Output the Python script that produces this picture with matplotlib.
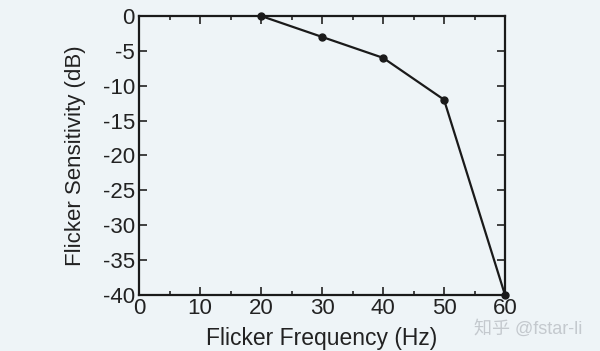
import matplotlib
matplotlib.use('Agg')
import matplotlib.pyplot as plt
from matplotlib.ticker import MultipleLocator

plt.rcParams['font.family'] = ['Liberation Sans', 'Noto Sans CJK SC', 'DejaVu Sans']
plt.rcParams['axes.unicode_minus'] = False

# 数据
freq = [20, 30, 40, 50, 60]
sensitivity = [0, -3, -6, -12, -40]

bg = '#eef4f7'
fig = plt.figure(figsize=(6, 3.51), dpi=100)
fig.patch.set_facecolor(bg)
ax = fig.add_axes([0.2317, 0.1595, 0.61, 0.795])
ax.set_facecolor(bg)

ax.plot(freq, sensitivity, color='#1a1a1a', lw=1.6, marker='o', ms=5,
        clip_on=False, zorder=3)

ax.set_xlim(0, 60)
ax.set_ylim(-40, 0)
ax.xaxis.set_major_locator(MultipleLocator(10))
ax.xaxis.set_minor_locator(MultipleLocator(5))
ax.yaxis.set_major_locator(MultipleLocator(5))

ax.tick_params(which='both', direction='in', top=True, right=True,
               labelsize=16, colors='#222222')
ax.tick_params(which='major', length=6, width=1.2)
ax.tick_params(which='minor', length=3, width=1.2)
ax.tick_params(axis='x', pad=2)
ax.tick_params(axis='y', pad=3)
for s in ax.spines.values():
    s.set_linewidth(1.6)
    s.set_color('#1a1a1a')

ax.set_xlabel('Flicker Frequency (Hz)', fontsize=16.5, color='#222222', labelpad=6)
ax.set_ylabel('Flicker Sensitivity (dB)', fontsize=16, color='#222222', labelpad=12)

# 水印
fig.text(0.79, 0.062, '知乎 @fstar-li', fontsize=13, color='#c4c9ce',
         ha='left', va='center')

fig.savefig('out.png', dpi=100, facecolor=bg)
